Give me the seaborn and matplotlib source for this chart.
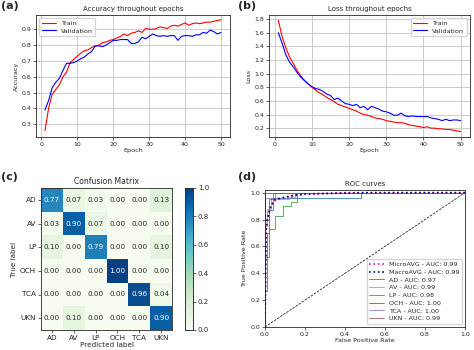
import numpy as np
import pandas as pd
import seaborn as sns
import matplotlib
matplotlib.use('Agg')
import matplotlib.pyplot as plt

# training history
epochs = list(range(1, 51))
acc_train = [0.26, 0.40, 0.49, 0.52, 0.55, 0.60, 0.63, 0.69, 0.71, 0.73,
             0.75, 0.765, 0.77, 0.785, 0.795, 0.80, 0.815, 0.82, 0.83, 0.835,
             0.845, 0.855, 0.87, 0.86, 0.875, 0.88, 0.89, 0.88, 0.905, 0.90,
             0.90, 0.905, 0.915, 0.91, 0.905, 0.92, 0.925, 0.92, 0.93, 0.94,
             0.925, 0.935, 0.94, 0.935, 0.94, 0.945, 0.945, 0.95, 0.955, 0.96]
acc_val = [0.39, 0.45, 0.53, 0.565, 0.59, 0.64, 0.685, 0.685, 0.69, 0.70,
           0.715, 0.725, 0.745, 0.76, 0.795, 0.795, 0.79, 0.80, 0.815, 0.83,
           0.83, 0.835, 0.835, 0.835, 0.81, 0.81, 0.82, 0.85, 0.84, 0.855,
           0.87, 0.86, 0.855, 0.86, 0.855, 0.86, 0.86, 0.83, 0.855, 0.86,
           0.86, 0.855, 0.865, 0.865, 0.88, 0.875, 0.895, 0.885, 0.87, 0.88]
loss_train = [1.78, 1.55, 1.38, 1.25, 1.15, 1.05, 0.97, 0.90, 0.85, 0.80,
              0.76, 0.72, 0.69, 0.65, 0.62, 0.59, 0.55, 0.53, 0.51, 0.49,
              0.47, 0.45, 0.42, 0.40, 0.39, 0.37, 0.35, 0.34, 0.33, 0.31,
              0.30, 0.29, 0.28, 0.28, 0.27, 0.25, 0.24, 0.23, 0.22, 0.21,
              0.22, 0.20, 0.20, 0.19, 0.19, 0.18, 0.18, 0.17, 0.16, 0.15]
loss_val = [1.60, 1.45, 1.28, 1.17, 1.10, 1.02, 0.95, 0.90, 0.85, 0.81,
            0.78, 0.77, 0.74, 0.70, 0.68, 0.62, 0.64, 0.60, 0.56, 0.55,
            0.53, 0.55, 0.50, 0.52, 0.47, 0.52, 0.50, 0.48, 0.45, 0.44,
            0.42, 0.39, 0.39, 0.42, 0.38, 0.37, 0.38, 0.37, 0.37, 0.37,
            0.37, 0.35, 0.34, 0.33, 0.31, 0.33, 0.31, 0.32, 0.32, 0.31]

# confusion matrix
classes = ['AD', 'AV', 'LP', 'OCH', 'TCA', 'UKN']
cm = [[0.77, 0.07, 0.03, 0.00, 0.00, 0.13],
      [0.03, 0.90, 0.07, 0.00, 0.00, 0.00],
      [0.10, 0.00, 0.79, 0.00, 0.00, 0.10],
      [0.00, 0.00, 0.00, 1.00, 0.00, 0.00],
      [0.00, 0.00, 0.00, 0.00, 0.96, 0.04],
      [0.00, 0.10, 0.00, 0.00, 0.00, 0.90]]

# ROC curves (step points)
micro_fpr = [0, 0.005, 0.01, 0.02, 0.03, 0.05, 0.08, 0.12, 0.2, 0.4, 1]
micro_tpr = [0, 0.72, 0.80, 0.87, 0.91, 0.94, 0.96, 0.97, 0.99, 1, 1]
macro_fpr = [0, 0.005, 0.01, 0.02, 0.03, 0.05, 0.08, 0.14, 0.2, 0.5, 1]
macro_tpr = [0, 0.70, 0.78, 0.85, 0.90, 0.95, 0.96, 0.98, 0.99, 1, 1]
roc_fpr = {
    'AD': [0, 0, 0.01, 0.01, 0.02, 0.02, 0.04, 0.04, 0.48, 0.48, 1],
    'AV': [0, 0, 0.01, 0.01, 0.03, 0.03, 0.12, 0.12, 0.15, 0.15, 1],
    'LP': [0, 0, 0.02, 0.02, 0.05, 0.05, 0.09, 0.09, 0.13, 0.13, 0.16, 0.16, 1],
    'OCH': [0, 0, 1],
    'TCA': [0, 0, 0.05, 0.05, 1],
    'UKN': [0, 0, 0.02, 0.02, 0.04, 0.04, 1],
}
roc_tpr = {
    'AD': [0, 0.27, 0.27, 0.70, 0.70, 0.87, 0.87, 0.96, 0.96, 1, 1],
    'AV': [0, 0.75, 0.75, 0.88, 0.88, 0.95, 0.95, 0.97, 0.97, 1, 1],
    'LP': [0, 0.52, 0.52, 0.73, 0.73, 0.83, 0.83, 0.90, 0.90, 0.93, 0.93, 1, 1],
    'OCH': [0, 1, 1],
    'TCA': [0, 0.96, 0.96, 1, 1],
    'UKN': [0, 0.80, 0.80, 0.95, 0.95, 1, 1],
}
auc = {'MicroAVG': 0.99, 'MacroAVG': 0.99, 'AD': 0.97, 'AV': 0.99,
       'LP': 0.98, 'OCH': 1.00, 'TCA': 1.00, 'UKN': 0.99}

sns.set_style('ticks')
plt.rcParams['font.family'] = ['DejaVu Sans']
plt.rcParams['axes.linewidth'] = 0.6
plt.rcParams['xtick.major.width'] = 0.5
plt.rcParams['ytick.major.width'] = 0.5
plt.rcParams['xtick.major.size'] = 2
plt.rcParams['ytick.major.size'] = 2
plt.rcParams['xtick.major.pad'] = 1.5
plt.rcParams['ytick.major.pad'] = 1.5

W, H = 474, 350
fig = plt.figure(figsize=(W / 100, H / 100), dpi=100)


def px_axes(x0, y0, x1, y1):
    return fig.add_axes([x0 / W, 1 - y1 / H, (x1 - x0) / W, (y1 - y0) / H])


tick_fs = 4.5
lab_fs = 4.6
title_fs = 5.0

hist = pd.DataFrame({'Epoch': epochs * 2,
                     'Accuracy': acc_train + acc_val,
                     'Loss': loss_train + loss_val,
                     'set': ['Train'] * 50 + ['Validation'] * 50})

# (a)
ax = px_axes(36, 15, 230, 137)
sns.lineplot(data=hist, x='Epoch', y='Accuracy', hue='set',
             palette={'Train': 'red', 'Validation': 'blue'}, lw=0.8, ax=ax)
ax.set_title('Accuracy throughout epochs', fontsize=title_fs, pad=3)
ax.set_yticks([0.3, 0.4, 0.5, 0.6, 0.7, 0.8, 0.9])
ax.set_xticks([0, 10, 20, 30, 40, 50])
ax.set_xlim(-1.5, 52.5)
ax.set_ylim(0.22, 0.99)
ax.grid(True, color='#c4c4c4', lw=0.6)
ax.tick_params(labelsize=tick_fs)
ax.set_xlabel('Epoch', fontsize=lab_fs, labelpad=1)
ax.set_ylabel('Accuracy', fontsize=lab_fs, labelpad=2)
ax.legend(title=None, fontsize=lab_fs, loc='upper left', handlelength=2.2,
          borderpad=0.4, labelspacing=0.3)

# (b)
ax = px_axes(269, 15, 470, 137)
sns.lineplot(data=hist, x='Epoch', y='Loss', hue='set',
             palette={'Train': 'red', 'Validation': 'blue'}, lw=0.8, ax=ax)
ax.set_title('Loss throughout epochs', fontsize=title_fs, pad=3)
ax.set_yticks([0.2, 0.4, 0.6, 0.8, 1.0, 1.2, 1.4, 1.6, 1.8])
ax.set_xticks([0, 10, 20, 30, 40, 50])
ax.set_xlim(-1.5, 52.5)
ax.set_ylim(0.07, 1.86)
ax.grid(True, color='#c4c4c4', lw=0.6)
ax.tick_params(labelsize=tick_fs)
ax.set_xlabel('Epoch', fontsize=lab_fs, labelpad=1)
ax.set_ylabel('Loss', fontsize=lab_fs, labelpad=2)
ax.legend(title=None, fontsize=lab_fs, loc='upper right', handlelength=2.2,
          borderpad=0.4, labelspacing=0.3)

# (c)
ax = px_axes(41, 188, 172, 330)
cax = px_axes(185, 188, 193, 330)
cm_df = pd.DataFrame(cm, index=classes, columns=classes)
sns.heatmap(cm_df, annot=True, fmt='.2f', cmap='GnBu', vmin=0, vmax=1,
            ax=ax, cbar_ax=cax, annot_kws={'fontsize': 5.2})
for s in ax.spines.values():
    s.set_visible(True)
    s.set_linewidth(0.6)
ax.set_title('Confusion Matrix', fontsize=title_fs + 0.5, pad=3)
ax.tick_params(labelsize=5.2, length=2)
ax.set_yticklabels(classes, rotation=0)
ax.set_xticklabels(classes, rotation=0)
ax.set_xlabel('Predicted label', fontsize=5.2, labelpad=1)
ax.set_ylabel('True label', fontsize=5.2, labelpad=2)
cax.tick_params(labelsize=5, length=2)
cax.set_yticks([0, 0.2, 0.4, 0.6, 0.8, 1.0])
cax.set_yticklabels(['0.0', '0.2', '0.4', '0.6', '0.8', '1.0'])
for s in cax.spines.values():
    s.set_visible(True)
    s.set_linewidth(0.5)

# (d)
ax = px_axes(265, 190, 465, 327)
ax.plot([0, 1], [0, 1], 'k--', lw=0.5)
sns.lineplot(x=micro_fpr, y=micro_tpr, color='deeppink', linestyle=':', lw=1.2,
             estimator=None, sort=False, ax=ax, zorder=5,
             label=f"MicroAVG - AUC: {auc['MicroAVG']:.2f}")
sns.lineplot(x=macro_fpr, y=macro_tpr, color='navy', linestyle=':', lw=1.2,
             estimator=None, sort=False, ax=ax, zorder=5,
             label=f"MacroAVG - AUC: {auc['MacroAVG']:.2f}")
pal = sns.color_palette('tab10')
for i, c in enumerate(classes):
    sns.lineplot(x=roc_fpr[c], y=roc_tpr[c], color=pal[i], lw=0.7, alpha=0.8,
                 estimator=None, sort=False, ax=ax,
                 label=f"{c} - AUC: {auc[c]:.2f}")
ax.set_xlim(0, 1)
ax.set_ylim(0, 1.02)
ax.set_xticks([0, 0.2, 0.4, 0.6, 0.8, 1.0])
ax.set_yticks([0, 0.2, 0.4, 0.6, 0.8, 1.0])
ax.set_xticklabels(['0.0', '0.2', '0.4', '0.6', '0.8', '1.0'])
ax.set_yticklabels(['0.0', '0.2', '0.4', '0.6', '0.8', '1.0'])
ax.tick_params(labelsize=tick_fs)
ax.set_title('ROC curves', fontsize=title_fs, pad=3)
ax.set_xlabel('False Positive Rate', fontsize=lab_fs, labelpad=1)
ax.set_ylabel('True Positive Rate', fontsize=lab_fs, labelpad=2)
ax.legend(fontsize=lab_fs, loc='lower right', handlelength=2.2,
          borderpad=0.4, labelspacing=0.35)

# panel letters
for lbl, x, y in [('(a)', 1, 1), ('(b)', 238, 1), ('(c)', 1, 172), ('(d)', 238, 172)]:
    fig.text(x / W, 1 - y / H, lbl, fontsize=8, fontweight='bold', va='top', ha='left')

fig.savefig('out.png', dpi=100)
